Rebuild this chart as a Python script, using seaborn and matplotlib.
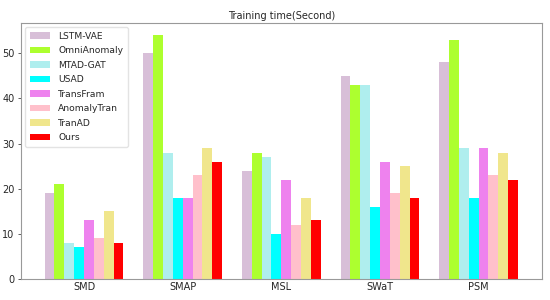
import numpy as np
import pandas as pd
import matplotlib
matplotlib.use("Agg")
import matplotlib.pyplot as plt
import seaborn as sns

datasets = ["SMD", "SMAP", "MSL", "SWaT", "PSM"]
models = ["LSTM-VAE", "OmniAnomaly", "MTAD-GAT", "USAD", "TransFram",
          "AnomalyTran", "TranAD", "Ours"]
lstm_vae = [19, 50, 24, 45, 48]
omni = [21, 54, 28, 43, 53]
mtad_gat = [8, 28, 27, 43, 29]
usad = [7, 18, 10, 16, 18]
transfram = [13, 18, 22, 26, 29]
anomalytran = [9, 23, 12, 19, 23]
tranad = [15, 29, 18, 25, 28]
ours = [8, 26, 13, 18, 22]
colors = ["thistle", "greenyellow", "paleturquoise", "cyan", "violet",
          "pink", "khaki", "red"]

series = [lstm_vae, omni, mtad_gat, usad, transfram, anomalytran, tranad, ours]
rows = []
for m, vals in zip(models, series):
    for d, v in zip(datasets, vals):
        rows.append({"Dataset": d, "Model": m, "Time": v})
df = pd.DataFrame(rows)

sns.set_style("ticks")
plt.rcParams['font.family'] = ['DejaVu Sans']

fig, ax = plt.subplots(figsize=(5.5, 3), dpi=100)
fig.subplots_adjust(left=0.038, right=0.985, bottom=0.07, top=0.923)

sns.barplot(data=df, x="Dataset", y="Time", hue="Model", order=datasets,
            hue_order=models, palette=colors, saturation=1, width=0.8,
            linewidth=0, ax=ax)

ax.set_xlim(-0.64, 4.64)
ax.set_ylim(0, 56.7)
ax.set_yticks([0, 10, 20, 30, 40, 50])
ax.set_xlabel("")
ax.set_ylabel("")
ax.set_title("Training time(Second)", fontsize=7.0, pad=3)
ax.tick_params(axis="both", labelsize=7.0, length=2.5, width=0.6, pad=2,
               color="#444444")
ax.tick_params(axis="x", length=0)
for s in ax.spines.values():
    s.set_visible(True)
    s.set_color("#999999")
    s.set_linewidth(0.8)

ax.legend(loc="upper left", fontsize=6.6, frameon=True, handlelength=2.2,
          borderpad=0.5, labelspacing=0.6, handletextpad=0.9,
          borderaxespad=0.45, edgecolor="#dddddd", fancybox=True)

fig.savefig("out.png", dpi=100)
